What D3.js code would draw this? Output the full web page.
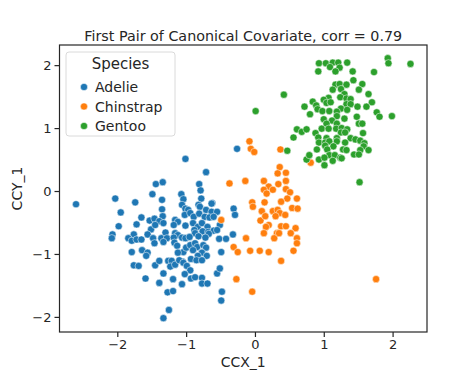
<!DOCTYPE html>
<html><head><meta charset="utf-8">
<script src="https://cdn.jsdelivr.net/npm/d3@7/dist/d3.min.js"></script>
<style>body{margin:0;background:#fff;} text{font-family:"DejaVu Sans",sans-serif;fill:#262626;}</style>
</head><body><svg id="c" width="474" height="379"></svg>
<script>
const species = ["Adelie","Chinstrap","Gentoo"];
const colors = ["#1f77b4","#ff7f0e","#2ca02c"];
const xTicks = [-2,-1,0,1,2];
const yTicks = [-2,-1,0,1,2];
const titleText = "First Pair of Canonical Covariate, corr = 0.79";
const xLabel = "CCX_1", yLabel = "CCY_1";

const adelieX = [-2.60,-1.01,-1.44,-1.34,-0.71,-0.26,-2.03,-1.74,-1.49,-1.35,-1.07,-1.04,-0.81,-0.79,-0.78,-0.62,-1.95,-1.35,-1.06,-1.01,-0.97,-0.82,-0.80,-0.71,-0.63,-0.63,-0.55,-0.31,-0.29,-1.65,-1.34,-1.53,-1.46,-1.39,-1.33,-1.16,-1.12,-1.02,-0.94,-0.89,-0.81,-0.73,-0.66,-0.60,-1.98,-1.72,-1.51,-1.45,-1.30,-1.18,-1.01,-0.90,-0.83,-0.77,-0.69,-0.51,-0.76,-0.68,-0.60,-0.55,-0.88,-0.32,-2.07,-1.76,-1.56,-1.16,-1.12,-0.87,-0.82,-0.67,-2.08,-1.84,-1.79,-1.72,-1.65,-1.48,-1.46,-1.36,-1.28,-1.33,-1.18,-1.17,-1.06,-1.01,-0.95,-0.72,-0.52,-0.42,-1.13,-1.04,-1.00,-0.94,-0.87,-0.84,-0.75,-0.71,-1.79,-1.64,-1.56,-1.58,-1.12,-0.90,-0.77,-0.83,-0.70,-0.49,-0.93,-0.85,-0.77,-1.05,-1.76,-1.69,-1.45,-1.39,-1.26,-1.21,-1.23,-1.16,-1.10,-1.04,-0.99,-0.94,-1.33,-1.02,-0.93,-0.87,-0.77,-0.55,-0.51,-1.59,-1.39,-1.19,-1.06,-0.77,-0.69,-1.27,-1.19,-0.48,-0.49,-1.25,-1.33];
const adelieY = [-0.21,0.51,0.11,0.14,0.30,0.67,-0.12,-0.18,-0.05,-0.14,-0.05,-0.13,0.11,0.01,-0.12,-0.19,-0.34,-0.29,-0.22,-0.28,-0.30,-0.22,-0.25,-0.30,-0.20,-0.33,-0.33,-0.28,-0.38,-0.42,-0.40,-0.47,-0.44,-0.48,-0.51,-0.46,-0.49,-0.38,-0.35,-0.41,-0.36,-0.41,-0.42,-0.41,-0.56,-0.53,-0.61,-0.54,-0.66,-0.54,-0.55,-0.51,-0.57,-0.51,-0.57,-0.54,-0.64,-0.65,-0.63,-0.62,-0.62,-0.69,-0.69,-0.69,-0.69,-0.67,-0.70,-0.67,-0.72,-0.68,-0.75,-0.75,-0.79,-0.77,-0.77,-0.75,-0.83,-0.75,-0.75,-0.81,-0.74,-0.82,-0.74,-0.75,-0.73,-0.74,-0.76,-0.76,-0.87,-0.97,-0.90,-0.86,-0.83,-0.89,-0.86,-0.90,-0.97,-0.94,-0.98,-1.03,-0.98,-0.94,-0.98,-1.03,-1.03,-0.97,-1.08,-1.10,-1.10,-1.12,-1.18,-1.19,-1.18,-1.11,-1.11,-1.11,-1.20,-1.17,-1.10,-1.14,-1.19,-1.26,-1.31,-1.32,-1.39,-1.37,-1.38,-1.31,-1.23,-1.39,-1.46,-1.40,-1.48,-1.47,-1.47,-1.61,-1.59,-1.60,-1.74,-1.89,-2.02];

const chinX = [-0.08,-0.06,-0.01,0.37,0.81,0.36,0.33,0.45,-0.37,-0.14,0.13,0.45,0.20,0.34,0.13,0.17,0.26,0.45,0.51,0.61,0.47,0.14,0.38,0.54,-0.04,-0.03,0.10,0.26,0.33,0.36,0.30,0.62,0.44,0.08,0.15,0.20,0.16,0.38,0.45,0.59,0.32,0.28,-0.13,-0.49,-0.31,-0.25,-0.07,0.07,0.20,0.13,0.35,0.52,0.61,0.61,0.56,0.38,-0.27,-0.04,1.76];
const chinY = [0.79,0.67,0.62,0.66,0.45,0.38,0.28,0.29,0.12,0.16,0.16,0.16,0.07,0.11,0.02,-0.04,0.02,0.03,-0.02,-0.12,-0.12,-0.18,-0.17,-0.27,-0.18,-0.25,-0.32,-0.32,-0.30,-0.35,-0.40,-0.28,-0.38,-0.47,-0.40,-0.54,-0.57,-0.56,-0.56,-0.59,-0.67,-0.75,-0.75,-0.46,-0.89,-0.97,-0.95,-0.95,-0.97,-0.67,-0.67,-0.67,-0.75,-0.83,-0.95,-1.11,-1.40,-1.60,-1.40];

const gentooX = [0.93,1.03,1.13,1.21,1.34,1.93,1.94,2.26,1.09,1.23,1.17,0.92,1.42,1.73,1.43,1.17,1.23,1.33,1.56,1.13,1.25,1.51,0.42,1.30,1.65,1.07,1.00,1.24,1.33,1.39,1.04,1.10,0.84,1.70,1.33,1.39,0.72,0.89,1.49,1.62,0.91,1.25,1.34,0.98,1.08,1.19,1.77,1.81,1.99,0.80,1.19,1.48,1.00,1.12,1.30,1.04,1.19,1.51,1.56,0.97,1.18,1.26,1.34,0.61,0.68,0.75,0.88,1.25,1.31,1.57,0.56,0.92,1.04,1.19,1.39,1.46,1.53,1.19,0.93,1.02,1.08,1.31,1.59,1.58,1.02,1.14,1.28,1.33,1.53,1.65,0.90,1.05,0.47,1.08,1.16,1.24,1.44,1.51,0.75,0.79,0.93,1.01,1.13,1.26,1.01,1.52,0.01,1.07];
const gentooY = [2.03,2.03,2.04,2.04,2.04,2.11,2.03,2.02,1.97,1.96,1.90,1.90,1.90,1.89,1.76,1.69,1.70,1.69,1.70,1.61,1.62,1.61,1.53,1.54,1.54,1.48,1.45,1.49,1.47,1.46,1.40,1.41,1.42,1.41,1.38,1.38,1.34,1.36,1.34,1.34,1.30,1.31,1.29,1.27,1.27,1.26,1.25,1.18,1.19,1.22,1.19,1.18,1.14,1.12,1.15,1.07,1.07,1.07,1.07,0.99,0.99,1.00,0.98,0.98,0.94,0.98,0.92,0.93,0.93,0.92,0.85,0.85,0.84,0.84,0.84,0.82,0.80,0.79,0.77,0.77,0.79,0.77,0.76,0.71,0.72,0.71,0.66,0.65,0.65,0.65,0.66,0.66,0.64,0.57,0.57,0.53,0.58,0.58,0.50,0.57,0.50,0.53,0.48,0.52,0.41,0.14,1.27,0.99];

const svg = d3.select("#c");
const m = {l:59.5, r:427, t:45, b:332};
const x = d3.scaleLinear().domain([-2.84, 2.50]).range([m.l, m.r]);
const y = d3.scaleLinear().domain([-2.24, 2.32]).range([m.b, m.t]);

const groups = [[adelieX,adelieY],[chinX,chinY],[gentooX,gentooY]];
groups.forEach((g,i)=>{
  const pts = g[0].map((v,j)=>[v,g[1][j]]);
  svg.append("g").selectAll("circle").data(pts).join("circle")
    .attr("cx",d=>x(d[0])).attr("cy",d=>y(d[1])).attr("r",3.6)
    .attr("fill",colors[i]).attr("stroke","#fff").attr("stroke-width",0.5);
});

// frame
svg.append("rect").attr("x",m.l).attr("y",m.t).attr("width",m.r-m.l).attr("height",m.b-m.t)
  .attr("fill","none").attr("stroke","#262626").attr("stroke-width",1.2);

const fmt = d => d<0 ? "\u2212"+Math.abs(d) : String(d);
const xa = svg.append("g").attr("transform",`translate(0,${m.b})`)
  .call(d3.axisBottom(x).tickValues(xTicks).tickFormat(fmt).tickSize(5).tickPadding(3));
const ya = svg.append("g").attr("transform",`translate(${m.l},0)`)
  .call(d3.axisLeft(y).tickValues(yTicks).tickFormat(fmt).tickSize(5).tickPadding(3));
[xa,ya].forEach(a=>{
  a.select(".domain").remove();
  a.selectAll("line").attr("stroke","#262626").attr("stroke-width",1.2);
  a.selectAll("text").style("font-family","DejaVu Sans").style("font-size","13px").attr("fill","#262626");
});

svg.append("text").attr("x",(m.l+m.r)/2).attr("y",41).attr("text-anchor","middle")
  .style("font-size","14.3px").text(titleText);
svg.append("text").attr("x",(m.l+m.r)/2).attr("y",367).attr("text-anchor","middle")
  .style("font-size","14px").text(xLabel);
svg.append("text").attr("transform",`translate(22,${(m.t+m.b)/2}) rotate(-90)`).attr("text-anchor","middle")
  .style("font-size","14px").text(yLabel);

// legend
const lg = svg.append("g");
lg.append("rect").attr("x",66).attr("y",52).attr("width",109).attr("height",84).attr("rx",3)
  .attr("fill","#fff").attr("fill-opacity",0.8).attr("stroke","#d0d0d0").attr("stroke-width",0.8);
lg.append("text").attr("x",120.5).attr("y",69).attr("text-anchor","middle").style("font-size","15px").text("Species");
species.forEach((s,i)=>{
  const yy = 87 + i*19.5;
  lg.append("circle").attr("cx",84).attr("cy",yy).attr("r",3.6).attr("fill",colors[i]).attr("stroke","#fff").attr("stroke-width",0.5);
  lg.append("text").attr("x",95).attr("y",yy+5).style("font-size","14px").text(s);
});
</script></body></html>
